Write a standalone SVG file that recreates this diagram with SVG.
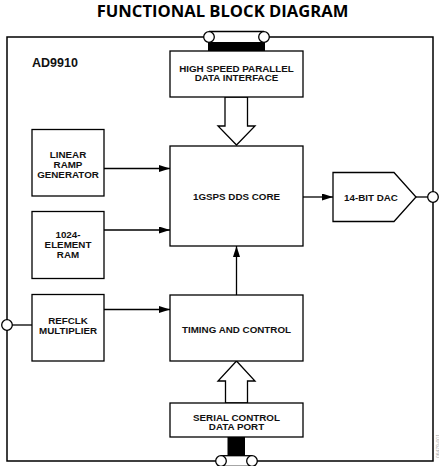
<svg xmlns="http://www.w3.org/2000/svg" width="439" height="466" viewBox="0 0 439 466">
<style>
.box{fill:#fff;stroke:#000;stroke-width:1.3}
.ln{fill:none;stroke:#000;stroke-width:1.3}
.t{font-family:"Liberation Sans",Arial,sans-serif;font-weight:bold;font-size:9.8px;fill:#111;text-anchor:middle}
.pin{fill:#fff;stroke:#000;stroke-width:1.3}
</style>
<defs>
<marker id="ah" markerUnits="userSpaceOnUse" markerWidth="12" markerHeight="8" refX="11" refY="3.5" orient="auto">
<path d="M0,0 L11,3.5 L0,7 Z" fill="#000"/>
</marker>
</defs>
<rect width="439" height="466" fill="#fff"/>
<text x="222.5" y="17" style="font-family:'Open Sans',sans-serif;font-weight:bold;font-size:16.6px;fill:#000;text-anchor:middle">FUNCTIONAL BLOCK DIAGRAM</text>

<g id="chip-border">
<path d="M209,37 H7 V461 H221 M252,461 H433 V37 H264" fill="none" stroke="#000" stroke-width="1.5"/>
<text x="32" y="66.5" style="font-family:'Liberation Sans',Arial,sans-serif;font-weight:bold;font-size:12.5px;fill:#111">AD9910</text>
</g>

<g id="connectors">
<line class="ln" x1="104" y1="168.5" x2="170" y2="168.5" marker-end="url(#ah)"/>
<line class="ln" x1="104" y1="230" x2="170" y2="230" marker-end="url(#ah)"/>
<line class="ln" x1="104" y1="309.5" x2="170" y2="309.5" marker-end="url(#ah)"/>
<line class="ln" x1="303" y1="197" x2="333" y2="197" marker-end="url(#ah)"/>
<line class="ln" x1="236.5" y1="295" x2="236.5" y2="246" marker-end="url(#ah)"/>
<line class="ln" x1="416" y1="197" x2="428" y2="197"/>
<line class="ln" x1="12" y1="325" x2="32" y2="325"/>
<polygon class="box" points="225,97 225,126 218,126 236.5,145 255,126 247.5,126 247.5,97"/>
<polygon class="box" points="225.5,403 225.5,381 218,381 236.5,361 255,381 247.5,381 247.5,403"/>
</g>

<g id="top-port">
<line class="ln" x1="209" y1="31.5" x2="264" y2="31.5"/>
<rect x="208" y="42" width="57" height="9" fill="#000"/>
<circle class="pin" cx="209" cy="37" r="5.3"/>
<circle class="pin" cx="264" cy="37" r="5.3"/>
</g>

<g id="bottom-port">
<rect x="227.5" y="437" width="17.5" height="19" fill="#000"/>
<line class="ln" x1="221" y1="455.7" x2="252" y2="455.7"/>
<line class="ln" x1="221" y1="466.3" x2="252" y2="466.3"/>
<circle class="pin" cx="221" cy="461" r="5.3"/>
<circle class="pin" cx="252" cy="461" r="5.3"/>
</g>

<g id="out-pin"><circle class="pin" cx="433" cy="197" r="5.3"/></g>
<g id="refclk-pin"><circle class="pin" cx="7" cy="325" r="5.3"/></g>

<g id="hspdi">
<rect class="box" x="170" y="51" width="133" height="46"/>
<text class="t" x="236.5" y="71.5">HIGH SPEED PARALLEL</text>
<text class="t" x="236.5" y="81">DATA INTERFACE</text>
</g>

<g id="dds-core">
<rect class="box" x="170" y="146" width="133" height="100"/>
<text class="t" x="236.5" y="199.5">1GSPS DDS CORE</text>
</g>

<g id="ramp">
<rect class="box" x="32" y="129.5" width="72" height="66.5"/>
<text class="t" x="68" y="158">LINEAR</text>
<text class="t" x="68" y="168">RAMP</text>
<text class="t" x="68" y="178">GENERATOR</text>
</g>

<g id="ram">
<rect class="box" x="32" y="211.5" width="72" height="67"/>
<text class="t" x="68" y="238">1024-</text>
<text class="t" x="68" y="248">ELEMENT</text>
<text class="t" x="68" y="258">RAM</text>
</g>

<g id="dac">
<polygon class="box" points="333,172.5 394,172.5 416,197 394,221.5 333,221.5"/>
<text class="t" x="371" y="200.5">14-BIT DAC</text>
</g>

<g id="refclk">
<rect class="box" x="32" y="294.5" width="72" height="66.5"/>
<text class="t" x="68" y="323.5">REFCLK</text>
<text class="t" x="68" y="333.5">MULTIPLIER</text>
</g>

<g id="timing">
<rect class="box" x="170" y="295" width="133" height="66"/>
<text class="t" x="236.5" y="333">TIMING AND CONTROL</text>
</g>

<g id="serial">
<rect class="box" x="170" y="403" width="133" height="34"/>
<text class="t" x="236.5" y="420.5">SERIAL CONTROL</text>
<text class="t" x="236.5" y="430">DATA PORT</text>
</g>

<text x="0" y="0" transform="translate(439.5,458) rotate(-90)" style="font-family:'Liberation Sans',Arial,sans-serif;font-size:5px;fill:#aaa">06479-001</text>
</svg>
